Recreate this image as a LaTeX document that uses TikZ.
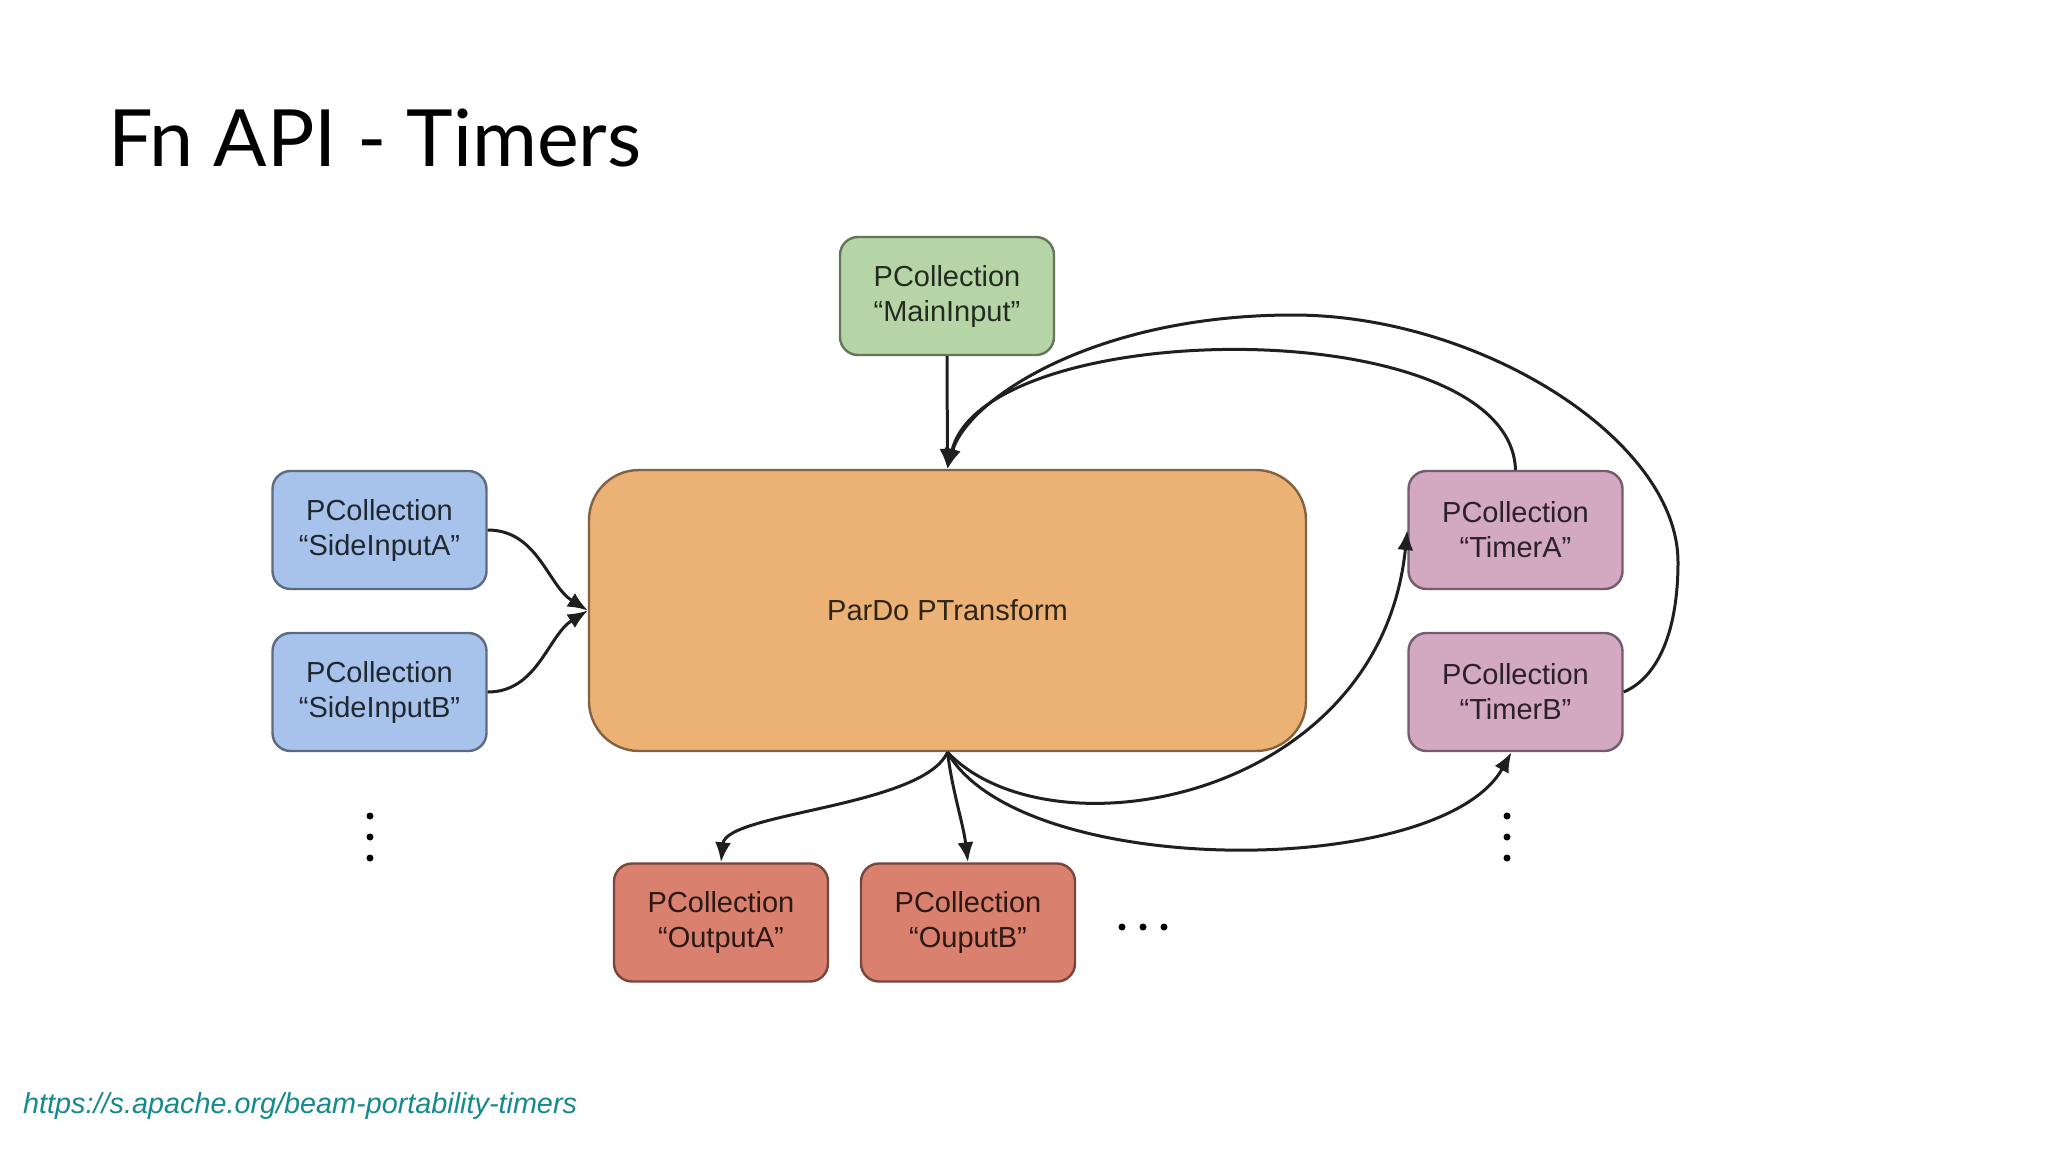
\documentclass[tikz,border=0pt]{standalone}
\usepackage{fontspec}
\setmainfont{Liberation Sans}
\newfontfamily\titlefont{Lato}
\usetikzlibrary{arrows.meta}
\definecolor{cgreen}{HTML}{B6D5A7}
\definecolor{cblue}{HTML}{A7C3EB}
\definecolor{cpink}{HTML}{D3A8C1}
\definecolor{corange}{HTML}{ECB275}
\definecolor{cred}{HTML}{D9806F}
\definecolor{curl}{HTML}{14898F}
\tikzset{
  pbox/.style={draw=#1!55!black, fill=#1, line width=2.4pt, rounded corners=18pt,
    minimum width=214pt, minimum height=118pt, align=center,
    font=\fontsize{29}{35}\selectfont, text=#1!20!black, inner sep=0pt},
  conn/.style={line width=3pt, draw=black!88, -{Latex[length=20pt,width=16pt]}},
  dot/.style={circle, fill=black, inner sep=0pt, minimum size=7pt}
}
\begin{document}
\begin{tikzpicture}[x=1pt,y=-1pt]
\useasboundingbox[fill=white] (0,0) rectangle (2048,1152);
\node[anchor=base west, font=\titlefont\fontsize{79}{90}\selectfont, inner sep=0pt] (title) at (108,166) {Fn API - Timers};
\node[anchor=base west, font=\itshape\fontsize{28.8}{32}\selectfont, text=curl, inner sep=0pt] (url) at (23,1113) {https://s.apache.org/beam-portability-timers};

\node[pbox=corange, rounded corners=50pt, minimum width=717pt, minimum height=281pt] (pd) at (947.5,610.5) {ParDo PTransform};
\node[pbox=cgreen] (mi) at (947,296) {PCollection\\“MainInput”};
\node[pbox=cblue] (sa) at (379.5,530) {PCollection\\“SideInputA”};
\node[pbox=cblue] (sb) at (379.5,692) {PCollection\\“SideInputB”};
\node[pbox=cpink] (ta) at (1515.5,530) {PCollection\\“TimerA”};
\node[pbox=cpink] (tb) at (1515.5,692) {PCollection\\“TimerB”};
\node[pbox=cred] (oa) at (721,922.5) {PCollection\\“OutputA”};
\node[pbox=cred] (ob) at (968,922.5) {PCollection\\“OuputB”};

\node[dot] (l1) at (370,816) {};
\node[dot] (l2) at (370,837) {};
\node[dot] (l3) at (370,858) {};
\node[dot] (r1) at (1507,816) {};
\node[dot] (r2) at (1507,837) {};
\node[dot] (r3) at (1507,858) {};
\node[dot] (h1) at (1122,927) {};
\node[dot] (h2) at (1143,927) {};
\node[dot] (h3) at (1164,927) {};

\draw[conn] (mi.south) -- (pd.north);
\draw[conn] (sa.east) .. controls +(50,0) and +(-40,-25) .. (pd.west);
\draw[conn] (sb.east) .. controls +(50,0) and +(-40,25) .. (pd.west);
\draw[conn] (pd.south) .. controls +(-25,55) and +(5,-50) .. (oa.north);
\draw[conn] (pd.south) .. controls +(5,40) and +(-5,-40) .. (ob.north);
\draw[conn] (pd.south) .. controls (1050,860) and (1380,800) .. (ta.west);
\draw[conn] (pd.south) .. controls (1020,880) and (1440,880) .. ([xshift=-4pt]tb.south);
\draw[conn] (ta.north) .. controls (1510,310) and (985,315) .. (pd.north);
\draw[conn] (tb.east) .. controls +(35,-15) and (1678,630) .. (1678,562)
  .. controls (1678,440) and (1480,315) .. (1293,315)
  .. controls (1093,315) and (967,400) .. (pd.north);
\end{tikzpicture}
\end{document}
